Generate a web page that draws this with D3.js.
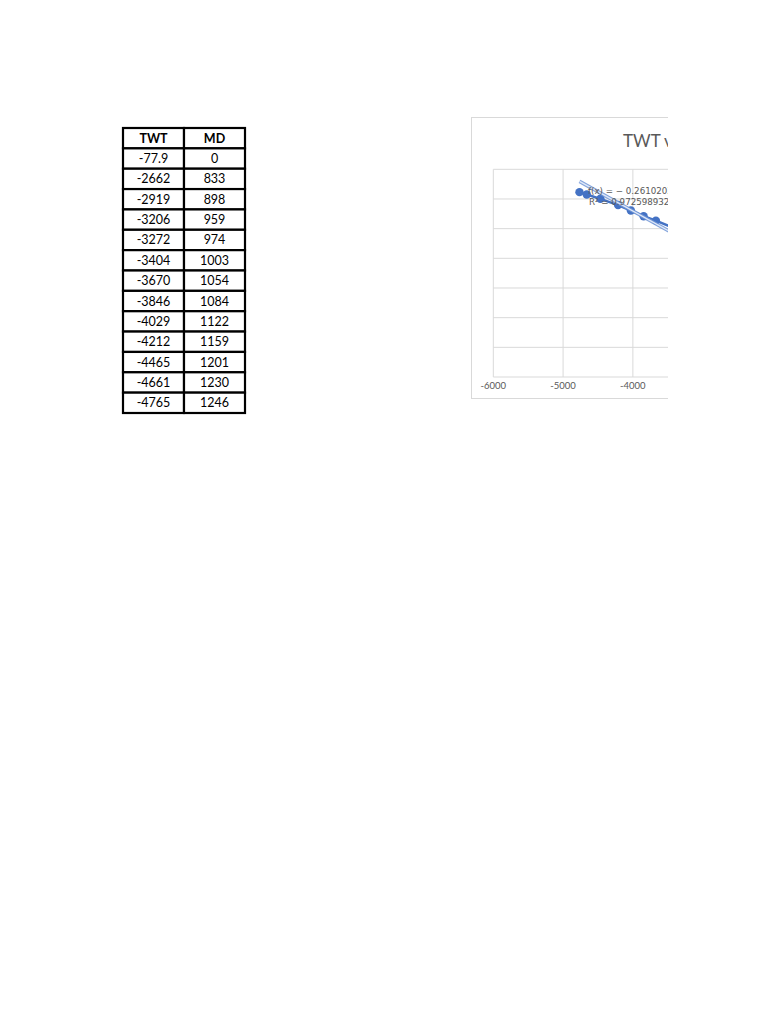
<!DOCTYPE html>
<html>
<head>
<meta charset="utf-8">
<script src="https://cdn.jsdelivr.net/npm/d3@7"></script>
<style>
  body { margin: 0; background: #fff; }
</style>
</head>
<body>
<div id="page"></div>
<script>
// table / scatter data
const twt = [-77.9, -2662, -2919, -3206, -3272, -3404, -3670, -3846, -4029, -4212, -4465, -4661, -4765];
const md = [0, 833, 898, 959, 974, 1003, 1054, 1084, 1122, 1159, 1201, 1230, 1246];
const headers = ["TWT", "MD"];
const xTicks = [-6000, -5000, -4000, -3000, -2000, -1000, 0];
const yTicks = [0, 200, 400, 600, 800, 1000, 1200, 1400];
const chartTitle = "TWT vs MD";

const cutX = 668; // the chart is cut off here in the picture

const svg = d3.select("#page").append("svg")
    .attr("width", 768)
    .attr("height", 1024);

// ---- table ----
const rows = [headers].concat(twt.map((t, i) => [String(t), String(md[i])]));
const colX = d3.scaleBand().domain([0, 1]).range([123, 245]);
const rowY = d3.scaleBand().domain(d3.range(rows.length)).range([128, 413]);

const table = svg.append("g");
rows.forEach((r, ri) => {
    r.forEach((cell, ci) => {
        table.append("rect")
            .attr("x", colX(ci))
            .attr("y", rowY(ri))
            .attr("width", colX.bandwidth())
            .attr("height", rowY.bandwidth())
            .attr("fill", "#fff")
            .attr("stroke", "#000")
            .attr("stroke-width", 2.2);
        table.append("text")
            .attr("x", colX(ci) + colX.bandwidth() / 2)
            .attr("y", rowY(ri) + rowY.bandwidth() / 2 + 4.5)
            .attr("text-anchor", "middle")
            .attr("font-family", "Lato, 'Open Sans', sans-serif")
            .attr("font-size", 12.5)
            .attr("font-weight", ri === 0 ? "bold" : "normal")
            .attr("fill", "#000")
            .text(cell);
    });
});

// ---- chart ----
svg.append("defs").append("clipPath").attr("id", "cut")
    .append("rect").attr("x", 0).attr("y", 0).attr("width", cutX).attr("height", 1024);

const chart = svg.append("g").attr("clip-path", "url(#cut)");

chart.append("rect")
    .attr("x", 471.5).attr("y", 117.5)
    .attr("width", 480).attr("height", 281)
    .attr("fill", "#fff")
    .attr("stroke", "#d9d9d9");

const x = d3.scaleLinear().domain([-6000, 0]).range([493.3, 912]);
const y = d3.scaleLinear().domain([0, 1400]).range([377, 169.3]);

chart.append("g")
    .selectAll("line")
    .data(xTicks)
    .join("line")
    .attr("x1", d => x(d)).attr("x2", d => x(d))
    .attr("y1", y(0)).attr("y2", y(1400))
    .attr("stroke", "#d9d9d9");

chart.append("g")
    .selectAll("line")
    .data(yTicks)
    .join("line")
    .attr("x1", x(-6000)).attr("x2", x(0))
    .attr("y1", d => y(d)).attr("y2", d => y(d))
    .attr("stroke", "#d9d9d9");

// only the tick labels that are visible left of the cut
chart.append("g")
    .selectAll("text")
    .data(xTicks.filter(d => x(d) + 14 < cutX))
    .join("text")
    .attr("x", d => x(d))
    .attr("y", 389)
    .attr("text-anchor", "middle")
    .attr("font-family", "Lato, 'Open Sans', sans-serif")
    .attr("font-size", 9.5)
    .attr("fill", "#595959")
    .text(d => d);

chart.append("text")
    .attr("x", 623)
    .attr("y", 147)
    .attr("font-family", "Lato, 'Open Sans', sans-serif")
    .attr("font-size", 17)
    .attr("fill", "#595959")
    .text(chartTitle);

// data line + markers
const pts = twt.map((t, i) => ({ t: t, m: md[i] }));
chart.append("path")
    .datum(pts)
    .attr("fill", "none")
    .attr("stroke", "#4472C4")
    .attr("stroke-width", 2.5)
    .attr("d", d3.line().x(d => x(d.t)).y(d => y(d.m)));

chart.append("g")
    .selectAll("circle")
    .data(pts)
    .join("circle")
    .attr("cx", d => x(d.t))
    .attr("cy", d => y(d.m))
    .attr("r", 4.2)
    .attr("fill", "#4472C4");

// linear trend line (least squares of MD on TWT)
const mx = d3.mean(twt), my = d3.mean(md);
const sxy = d3.sum(twt, (t, i) => (t - mx) * (md[i] - my));
const sxx = d3.sum(twt, t => (t - mx) * (t - mx));
const syy = d3.sum(md, m => (m - my) * (m - my));
const slope = sxy / sxx;
const icpt = my - slope * mx;
const r2 = (sxy * sxy) / (sxx * syy);
const trend = d3.extent(twt).map(t => ({ t: t, m: slope * t + icpt }));
const trendLine = d3.line().x(d => x(d.t)).y(d => y(d.m));

chart.append("path")
    .datum(trend)
    .attr("fill", "none")
    .attr("stroke", "#6f94d6")
    .attr("stroke-width", 3.6)
    .attr("stroke-opacity", 0.85)
    .attr("d", trendLine);
chart.append("path")
    .datum(trend)
    .attr("fill", "none")
    .attr("stroke", "#dfe8f7")
    .attr("stroke-width", 1.4)
    .attr("d", trendLine);

const eq = chart.append("text")
    .attr("font-family", "'DejaVu Sans', sans-serif")
    .attr("font-size", 8.7)
    .attr("fill", "#595959");
eq.append("tspan")
    .attr("x", 588).attr("y", 193.5)
    .text("f(x) = − " + Math.abs(slope).toFixed(10) + " x + " + icpt.toFixed(10));
eq.append("tspan")
    .attr("x", 589).attr("y", 205)
    .text("R² = " + r2.toFixed(10));
</script>
</body>
</html>
